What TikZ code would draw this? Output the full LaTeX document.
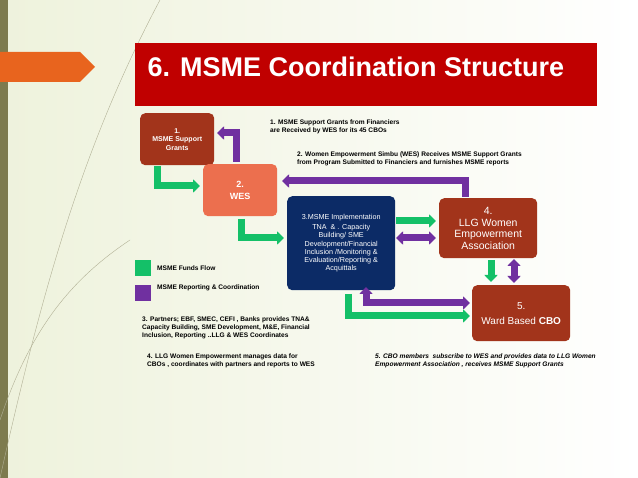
\documentclass[tikz,border=0pt]{standalone}
\usepackage{fontspec}
\setmainfont{Liberation Sans}
\usetikzlibrary{arrows.meta}
\definecolor{bg}{HTML}{EEF2DC}
\definecolor{olive}{HTML}{7D7B4E}
\definecolor{tred}{HTML}{C00000}
\definecolor{box1}{HTML}{A2341B}
\definecolor{wes}{HTML}{EC6F4E}
\definecolor{navy}{HTML}{0C2B66}
\definecolor{gflow}{HTML}{14C068}
\definecolor{pflow}{HTML}{7030A0}
\definecolor{orangearrow}{HTML}{E8641E}
\tikzset{
 box/.style={rounded corners=5pt, text=white, align=center, inner sep=2pt, font=\fontsize{7}{8}\selectfont},
 gar/.style={draw=gflow, line width=7pt, -{Triangle[length=7pt,width=13pt]}},
 par/.style={draw=pflow, line width=7pt, -{Triangle[length=7pt,width=13pt]}},
 pdar/.style={draw=pflow, line width=7pt, {Triangle[length=7pt,width=13pt]}-{Triangle[length=7pt,width=13pt]}},
 note/.style={anchor=north west, align=left, font=\bfseries\fontsize{6.6}{7.8}\selectfont, inner sep=0pt}
}
\begin{document}
\begin{tikzpicture}[x=1pt,y=-1pt]
\shade[left color=bg, right color=white] (0,0) rectangle (638,478);
\useasboundingbox (0,0) rectangle (638,478);
\fill[olive] (0,0) rectangle (8,478);
\draw[olive!60, line width=0.4pt] (0,478) .. controls (40,300) and (80,150) .. (160,0);
\draw[olive!60, line width=0.4pt] (0,420) .. controls (30,330) and (70,280) .. (130,240);
\fill[orangearrow] (0,52) -- (80,52) -- (95,67) -- (80,82) -- (0,82) -- cycle;
\node[fill=tred, minimum width=462pt, minimum height=63pt, anchor=north west, inner sep=0pt] (title) at (135,43) {};
\node[anchor=west, text=white, font=\bfseries\fontsize{27}{30}\selectfont] (tt) at (144,67) {6. MSME Coordination Structure};

\node[box, fill=box1, minimum width=74pt, minimum height=52pt, anchor=north west, font=\bfseries\fontsize{7}{8.5}\selectfont] (b1) at (140,113) {1.\\MSME Support\\Grants};
\node[box, fill=wes, minimum width=74pt, minimum height=52pt, anchor=north west, font=\bfseries\fontsize{9}{12}\selectfont] (b2) at (203,164) {2.\\WES};
\node[box, fill=navy, minimum width=108pt, minimum height=94pt, anchor=north west, font=\fontsize{7.2}{8.2}\selectfont] (b3) at (287,196) {3.MSME Implementation\\[2pt]TNA \ \& . Capacity\\Building/ SME\\Development/Financial\\Inclusion /Monitoring \&\\Evaluation/Reporting \&\\Acquittals};
\node[box, fill=box1, minimum width=98pt, minimum height=60pt, anchor=north west, font=\fontsize{10.5}{11.5}\selectfont] (b4) at (439,198) {4.\\LLG Women\\Empowerment\\Association};
\node[box, fill=box1, minimum width=98pt, minimum height=56pt, anchor=north west, font=\fontsize{10}{15}\selectfont] (b5) at (472,285) {5.\\Ward Based \textbf{CBO}};

\draw[gar] (157,166) |- (200,186);
\draw[par] (236,162) |- (217,133);
\draw[par] (465,197) |- (282,181);
\draw[gar] (241,219) |- (284,238);
\draw[gar] (396,221) -- (436,221);
\draw[pdar] (396,238) -- (436,238);
\draw[gar] (491,260) -- (491,282);
\draw[pdar] (514,259) -- (514,283);
\draw[par] (366,292) |- (470,303);
\draw[draw=pflow, line width=7pt, -{Triangle[length=7pt,width=13pt]}] (366,298) -- (366,287);
\draw[gar] (348,294) |- (470,316);

\node[fill=gflow, minimum size=16pt, inner sep=0pt, anchor=north west] (lg) at (135,260) {};
\node[fill=pflow, minimum size=16pt, inner sep=0pt, anchor=north west] (lp) at (135,285) {};
\node[note, anchor=west] (lgt) at (157,268) {MSME Funds Flow};
\node[note, anchor=west] (lpt) at (157,288) {MSME Reporting \& Coordination};

\node[note] (n1) at (270,120) {1. MSME Support Grants from Financiers\\are Received by WES for its 45 CBOs};
\node[note] (n2) at (297,152) {2. Women Empowerment Simbu (WES) Receives MSME Support Grants\\from Program Submitted to Financiers and furnishes MSME reports};
\node[note] (n3) at (142,317) {3. Partners; EBF, SMEC, CEFI , Banks provides TNA\&\\Capacity Building, SME Development, M\&E, Financial\\Inclusion, Reporting ..LLG \& WES Coordinates};
\node[note] (n4) at (147,354) {4. LLG Women Empowerment manages data for\\CBOs , coordinates with partners and reports to WES};
\node[note, font=\bfseries\itshape\fontsize{6.6}{7.8}\selectfont] (n5) at (375,354) {5. CBO members \ subscribe to WES and provides data to LLG Women\\Empowerment Association , receives MSME Support Grants};
\end{tikzpicture}
\end{document}
